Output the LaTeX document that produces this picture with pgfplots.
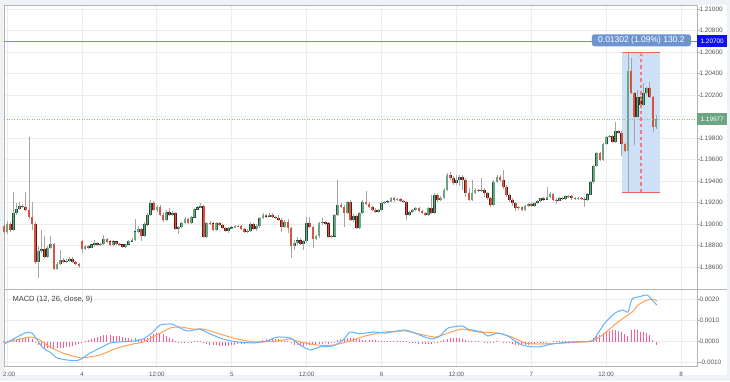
\documentclass[border=0pt]{standalone}
\usepackage{pgfplots}
\pgfplotsset{compat=1.18}
\usepackage{pgfplotstable}
\usepackage{fontspec}
\setmainfont{Liberation Sans}
\usetikzlibrary{arrows.meta}
\definecolor{bgc}{RGB}{238,241,245}
\definecolor{gridc}{RGB}{236,236,236}
\definecolor{framec}{RGB}{180,180,180}
\definecolor{labc}{RGB}{85,85,85}
\definecolor{upfill}{RGB}{107,165,131}
\definecolor{upline}{RGB}{34,84,55}
\definecolor{dnfill}{RGB}{215,84,66}
\definecolor{dnline}{RGB}{91,26,19}
\definecolor{wickc}{RGB}{165,165,165}
\definecolor{macdc}{RGB}{95,180,255}
\definecolor{sigc}{RGB}{255,160,90}
\definecolor{histc}{RGB}{255,90,150}
\definecolor{levelblue}{RGB}{125,125,255}
\definecolor{hlab}{RGB}{15,15,245}
\definecolor{lastc}{RGB}{107,165,131}
\definecolor{dotgreen}{RGB}{120,200,140}
\definecolor{boxc}{RGB}{205,224,247}
\definecolor{rangec}{RGB}{242,95,95}
\definecolor{arrc}{RGB}{245,120,130}
\definecolor{mlab}{RGB}{110,148,208}

\pgfplotstableread{
x o h l c
-25 1.18982 1.19010 1.18908 1.18926
-24 1.18926 1.19029 1.18908 1.19001
-23 1.19001 1.19019 1.18926 1.18945
-22 1.18945 1.19298 1.18936 1.19103
-21 1.19103 1.19196 1.19085 1.19140
-20 1.19140 1.19205 1.19131 1.19168
-19 1.19168 1.19187 1.19150 1.19159
-18 1.19159 1.19298 1.19122 1.19131
-17 1.19131 1.19810 1.19047 1.19066
-16 1.19066 1.19205 1.18945 1.19001
-15 1.19001 1.19019 1.18629 1.18647
-14 1.18647 1.18796 1.18499 1.18750
-13 1.18750 1.18945 1.18731 1.18768
-12 1.18768 1.18889 1.18685 1.18694
-11 1.18694 1.18796 1.18685 1.18778
-10 1.18778 1.18889 1.18768 1.18815
-9 1.18815 1.18824 1.18573 1.18582
-8 1.18582 1.18647 1.18573 1.18629
-7 1.18629 1.18759 1.18620 1.18666
-6 1.18666 1.18685 1.18638 1.18647
-5 1.18647 1.18675 1.18638 1.18657
-4 1.18657 1.18694 1.18647 1.18675
-3 1.18675 1.18694 1.18638 1.18647
-2 1.18647 1.18657 1.18620 1.18629
-1 1.18629 1.18638 1.18592 1.18610
0 1.18843 1.18852 1.18731 1.18768
1 1.18768 1.18806 1.18759 1.18796
2 1.18796 1.18806 1.18768 1.18782
3 1.18782 1.18815 1.18778 1.18806
4 1.18806 1.18852 1.18787 1.18824
5 1.18824 1.18833 1.18796 1.18806
6 1.18806 1.18824 1.18796 1.18815
7 1.18815 1.18899 1.18806 1.18861
8 1.18861 1.18871 1.18824 1.18836
9 1.18836 1.18852 1.18796 1.18806
10 1.18806 1.18852 1.18796 1.18836
11 1.18836 1.18843 1.18806 1.18815
12 1.18815 1.18824 1.18796 1.18806
13 1.18806 1.18815 1.18778 1.18787
14 1.18787 1.18815 1.18778 1.18810
15 1.18810 1.18852 1.18806 1.18838
16 1.18838 1.18871 1.18829 1.18852
17 1.18852 1.19047 1.18843 1.18929
18 1.18929 1.18982 1.18917 1.18951
19 1.18951 1.18964 1.18843 1.18889
20 1.18889 1.19019 1.18880 1.18998
21 1.18998 1.19103 1.18982 1.19085
22 1.19085 1.19224 1.19075 1.19193
23 1.19193 1.19215 1.19122 1.19131
24 1.19131 1.19178 1.19112 1.19159
25 1.19159 1.19178 1.19075 1.19085
26 1.19085 1.19103 1.19019 1.19038
27 1.19038 1.19131 1.19029 1.19112
28 1.19112 1.19150 1.19075 1.19085
29 1.19085 1.19122 1.19075 1.19103
30 1.19103 1.19112 1.18945 1.18954
31 1.18954 1.18982 1.18908 1.18973
32 1.18973 1.19019 1.18964 1.19010
33 1.19010 1.19066 1.19001 1.19045
34 1.19045 1.19057 1.19001 1.19010
35 1.19010 1.19075 1.19001 1.19063
36 1.19063 1.19150 1.19057 1.19138
37 1.19138 1.19168 1.19131 1.19154
38 1.19154 1.19196 1.19150 1.19164
39 1.19164 1.19178 1.18871 1.18880
40 1.18880 1.19019 1.18871 1.19010
41 1.19010 1.19029 1.18992 1.19005
42 1.19005 1.19019 1.18936 1.18945
43 1.18945 1.19019 1.18936 1.19010
44 1.19010 1.19019 1.18982 1.18992
45 1.18992 1.19001 1.18954 1.18964
46 1.18964 1.18973 1.18926 1.18936
47 1.18936 1.18973 1.18917 1.18959
48 1.18959 1.18982 1.18954 1.18968
49 1.18968 1.18992 1.18964 1.18982
50 1.18982 1.18992 1.18973 1.18978
51 1.18978 1.18992 1.18945 1.18954
52 1.18954 1.18964 1.18917 1.18926
53 1.18926 1.18954 1.18917 1.18936
54 1.18936 1.19019 1.18926 1.19001
55 1.19001 1.19010 1.18945 1.18954
56 1.18954 1.19001 1.18936 1.18982
57 1.18982 1.19066 1.18964 1.19057
58 1.19057 1.19103 1.19047 1.19080
59 1.19080 1.19094 1.19061 1.19071
60 1.19071 1.19103 1.19066 1.19080
61 1.19080 1.19103 1.19057 1.19066
62 1.19066 1.19075 1.19047 1.19057
63 1.19057 1.19085 1.19029 1.19038
64 1.19038 1.19057 1.18926 1.18973
65 1.18973 1.19038 1.18964 1.19019
66 1.19019 1.19047 1.18917 1.18964
67 1.18964 1.18973 1.18685 1.18796
68 1.18796 1.18852 1.18759 1.18824
69 1.18824 1.18880 1.18806 1.18847
70 1.18847 1.18871 1.18806 1.18815
71 1.18815 1.18852 1.18759 1.18843
72 1.18843 1.19066 1.18824 1.19010
73 1.19010 1.19066 1.18964 1.18973
74 1.18973 1.18982 1.18778 1.18861
75 1.18861 1.18899 1.18852 1.18889
76 1.18889 1.19019 1.18871 1.19010
77 1.19010 1.19057 1.18992 1.19019
78 1.19019 1.19029 1.18992 1.19005
79 1.19005 1.19019 1.18871 1.18880
80 1.18880 1.18899 1.18871 1.18885
81 1.18885 1.19094 1.18880 1.19085
82 1.19085 1.19410 1.19075 1.19178
83 1.19178 1.19196 1.19150 1.19159
84 1.19159 1.19178 1.18973 1.19103
85 1.19103 1.19215 1.19094 1.19205
86 1.19205 1.19224 1.19029 1.19038
87 1.19038 1.19094 1.19019 1.19075
88 1.19075 1.19085 1.18954 1.18964
89 1.18964 1.19112 1.18954 1.19103
90 1.19103 1.19224 1.19094 1.19205
91 1.19205 1.19308 1.19178 1.19187
92 1.19187 1.19205 1.19150 1.19159
93 1.19159 1.19168 1.19122 1.19131
94 1.19131 1.19150 1.19103 1.19112
95 1.19112 1.19140 1.19103 1.19131
96 1.19131 1.19205 1.19122 1.19196
97 1.19196 1.19215 1.19187 1.19205
98 1.19205 1.19224 1.19196 1.19210
99 1.19210 1.19252 1.19205 1.19243
100 1.19243 1.19252 1.19205 1.19224
101 1.19224 1.19243 1.19215 1.19233
102 1.19233 1.19243 1.19205 1.19215
103 1.19215 1.19224 1.19196 1.19205
104 1.19205 1.19215 1.19038 1.19085
105 1.19085 1.19122 1.19075 1.19112
106 1.19112 1.19140 1.19103 1.19131
107 1.19131 1.19159 1.19122 1.19150
108 1.19150 1.19159 1.19112 1.19122
109 1.19122 1.19131 1.19094 1.19103
110 1.19103 1.19112 1.19075 1.19085
111 1.19085 1.19159 1.19075 1.19150
112 1.19150 1.19271 1.19094 1.19103
113 1.19103 1.19289 1.19094 1.19271
114 1.19271 1.19289 1.19205 1.19224
115 1.19224 1.19261 1.19215 1.19243
116 1.19243 1.19336 1.19233 1.19317
117 1.19317 1.19475 1.19308 1.19457
118 1.19457 1.19484 1.19410 1.19429
119 1.19429 1.19447 1.19364 1.19382
120 1.19382 1.19457 1.19364 1.19410
121 1.19410 1.19457 1.19354 1.19438
122 1.19438 1.19457 1.19317 1.19410
123 1.19410 1.19429 1.19252 1.19289
124 1.19289 1.19336 1.19215 1.19224
125 1.19224 1.19410 1.19215 1.19289
126 1.19289 1.19336 1.19280 1.19317
127 1.19317 1.19326 1.19298 1.19308
128 1.19308 1.19429 1.19298 1.19317
129 1.19317 1.19336 1.19252 1.19289
130 1.19289 1.19298 1.19224 1.19243
131 1.19243 1.19252 1.19159 1.19178
132 1.19178 1.19410 1.19168 1.19391
133 1.19391 1.19457 1.19382 1.19438
134 1.19438 1.19457 1.19391 1.19410
135 1.19410 1.19503 1.19326 1.19345
136 1.19345 1.19364 1.19252 1.19271
137 1.19271 1.19289 1.19205 1.19224
138 1.19224 1.19243 1.19168 1.19196
139 1.19196 1.19205 1.19122 1.19150
140 1.19150 1.19168 1.19131 1.19159
141 1.19159 1.19168 1.19122 1.19131
142 1.19131 1.19178 1.19122 1.19168
143 1.19168 1.19196 1.19159 1.19187
144 1.19187 1.19205 1.19159 1.19168
145 1.19168 1.19205 1.19159 1.19196
146 1.19196 1.19224 1.19187 1.19215
147 1.19215 1.19243 1.19205 1.19238
148 1.19238 1.19252 1.19215 1.19229
149 1.19229 1.19345 1.19224 1.19252
150 1.19252 1.19298 1.19243 1.19280
151 1.19280 1.19289 1.19215 1.19224
152 1.19224 1.19243 1.19187 1.19219
153 1.19219 1.19252 1.19215 1.19243
154 1.19243 1.19252 1.19224 1.19233
155 1.19233 1.19271 1.19224 1.19257
156 1.19257 1.19271 1.19243 1.19261
157 1.19261 1.19271 1.19224 1.19243
158 1.19243 1.19252 1.19224 1.19238
159 1.19238 1.19252 1.19224 1.19238
160 1.19238 1.19252 1.19224 1.19233
161 1.19233 1.19252 1.19159 1.19224
162 1.19224 1.19289 1.19215 1.19275
163 1.19275 1.19401 1.19271 1.19391
164 1.19391 1.19550 1.19382 1.19540
165 1.19540 1.19670 1.19531 1.19661
166 1.19661 1.19670 1.19587 1.19596
167 1.19596 1.19754 1.19587 1.19745
168 1.19745 1.19819 1.19736 1.19810
169 1.19810 1.19829 1.19801 1.19819
170 1.19819 1.19829 1.19754 1.19763
171 1.19763 1.19949 1.19754 1.19866
172 1.19866 1.19875 1.19838 1.19847
173 1.19847 1.19866 1.19633 1.19745
174 1.19745 1.19754 1.19670 1.19680
175 1.19680 1.20600 1.19298 1.20424
176 1.20424 1.20545 1.20210 1.20219
177 1.20219 1.20228 1.19736 1.19996
178 1.19996 1.20247 1.19987 1.20182
179 1.20182 1.20191 1.20098 1.20108
180 1.20108 1.20312 1.20098 1.20219
181 1.20219 1.20275 1.20201 1.20266
182 1.20266 1.20321 1.20173 1.20182
183 1.20182 1.20191 1.19856 1.19903
184 1.19903 1.20015 1.19884 1.19977
}\candles

\pgfplotstableread{
x v
-25 -0.00011
-18.3 0.00041
-16 0.00041
-12.5 -0.0003
-10.3 -0.00049
-8 -0.00077
-4.8 -0.00087
-1.6 -0.0009
0.3 -0.00077
2.6 -0.00054
5.8 -0.0003
9 -0.00006
12.2 -0.00001
16.3 0.00003
19.6 0.00013
22.4 0.00041
25 0.00079
28.8 0.00084
31.4 0.00065
34 0.00051
37.8 0.0006
40.4 0.00041
45.2 0.00013
49.7 -0.00001
54.8 -0.00006
59.3 0.00003
62.5 0.00022
66.7 0.00018
69.9 -0.00016
73.1 -0.00039
76.3 -0.00025
80.4 -0.0002
83.7 0.00008
85.9 0.00046
89.1 0.00037
90.7 0.00041
93.9 0.00046
97.1 0.00041
101.3 0.00051
103.5 0.00056
106.7 0.00041
109.9 0.00022
112.2 0.00013
114.7 0.00027
117.3 0.00065
121.8 0.00075
123.7 0.0006
128.2 0.00046
130.1 0.00027
133.3 0.00041
136.5 0.00027
139.7 -0.00006
142 -0.0002
146.2 -0.00025
150.6 -0.00011
157.1 -0.00001
163.5 0.00003
165.4 0.00041
167.6 0.00089
170.8 0.00136
173.4 0.00151
175 0.00141
176.3 0.00203
178.2 0.00212
181.1 0.00222
182.7 0.00198
184.3 0.00174
}\macdline

\pgfplotstableread{
x v
-25 -0.00006
-16.7 0.00022
-13.5 0.00008
-10.3 -0.00025
-6.1 -0.00054
-1.6 -0.00073
0.3 -0.00077
5.8 -0.00063
11.2 -0.0003
16.3 -0.00011
19.6 -0.00001
24 0.00032
28.2 0.00065
31.4 0.0007
35.6 0.0006
38.8 0.0006
43.3 0.00041
48.4 0.00018
54.8 -0.00001
62.5 0.00003
66.7 0.00013
69.9 -0.00001
75.3 -0.00016
80.4 -0.00016
84.9 -0.00001
90.7 0.00027
97.1 0.00046
103.5 0.00051
106.7 0.00041
113.1 0.00022
117.3 0.00041
121.8 0.0006
126.9 0.00046
133.3 0.00041
137.8 0.00022
142 -0.00006
146.2 -0.00011
154.8 -0.00006
163.5 0.00003
167.6 0.00041
171.8 0.00094
176.3 0.00141
178.2 0.00174
180.4 0.00193
182.7 0.00203
184.3 0.00193
}\signalline

\pgfplotstableread{
x v
-25 0.00003
-24 0.00005
-23 0.00008
-22 0.00012
-21 0.00015
-20 0.00018
-19 0.0002
-18 0.00022
-17 0.0002
-16 0.00012
-15 -0.00005
-14 -0.00015
-13 -0.00022
-12 -0.00028
-11 -0.0003
-10 -0.00032
-9 -0.00033
-8 -0.00032
-7 -0.0003
-6 -0.00028
-5 -0.00026
-4 -0.00023
-3 -0.0002
-2 -0.00017
-1 -0.00013
0 -0.00005
1 0.00003
2 0.0001
3 0.00015
4 0.0002
5 0.00024
6 0.00027
7 0.0003
8 0.00031
9 0.0003
10 0.00029
11 0.00027
12 0.00025
13 0.00022
14 0.0002
15 0.00017
16 0.00015
17 0.00016
18 0.00015
19 0.00013
20 0.00012
21 0.00018
22 0.00028
23 0.00036
24 0.0004
25 0.0004
26 0.00035
27 0.00028
28 0.0002
29 0.00012
30 0.00003
31 -0.00003
32 -0.00005
33 -0.00006
34 -0.00005
35 -0.00003
36 0.00001
37 0.00002
38 0.00001
39 -0.00008
40 -0.00012
41 -0.00015
42 -0.00017
43 -0.00018
44 -0.00019
45 -0.0002
46 -0.0002
47 -0.00019
48 -0.00017
49 -0.00015
50 -0.00013
51 -0.00011
52 -0.0001
53 -0.00008
54 -0.00005
55 -0.00002
56 0
57 0.00004
58 0.00008
59 0.00011
60 0.00013
61 0.00014
62 0.00014
63 0.00012
64 0.00008
65 0.00005
66 0.00002
67 -0.00008
68 -0.00014
69 -0.00018
70 -0.0002
71 -0.00021
72 -0.00017
73 -0.00016
74 -0.00017
75 -0.00015
76 -0.00012
77 -0.0001
78 -0.00008
79 -0.00009
80 -0.00008
81 -0.00002
82 0.00008
83 0.00014
84 0.00017
85 0.00019
86 0.00018
87 0.00016
88 0.00012
89 0.00011
90 0.0001
91 0.0001
92 0.00009
93 0.00008
94 0.00006
95 0.00004
96 0.00003
97 0.00003
98 0.00002
99 0.00003
100 0.00003
101 0.00003
102 0.00004
103 0.00004
104 0.00001
105 -0.00003
106 -0.00006
107 -0.00008
108 -0.0001
109 -0.00011
110 -0.00012
111 -0.00011
112 -0.0001
113 -0.00004
114 -0.00001
115 0.00002
116 0.00006
117 0.00013
118 0.00018
119 0.0002
120 0.00019
121 0.00016
122 0.00013
123 0.00008
124 0.00004
125 0.00003
126 0.00002
127 0.00001
128 0
129 -0.00002
130 -0.00005
131 -0.00008
132 -0.00002
133 0.00001
134 0
135 -0.00002
136 -0.00005
137 -0.00008
138 -0.00011
139 -0.00014
140 -0.00016
141 -0.00017
142 -0.00016
143 -0.00014
144 -0.00012
145 -0.0001
146 -0.00008
147 -0.00006
148 -0.00004
149 -0.00002
150 0
151 0.00001
152 0.00002
153 0.00003
154 0.00003
155 0.00003
156 0.00002
157 0.00002
158 0.00001
159 0.00001
160 0.00001
161 0
162 0.00002
163 0.00008
164 0.00017
165 0.00027
166 0.00034
167 0.00042
168 0.00047
169 0.00052
170 0.00055
171 0.00056
172 0.00051
173 0.00045
174 0.00035
175 0.00027
176 0.00055
177 0.00062
178 0.00055
179 0.00048
180 0.00045
181 0.0004
182 0.00032
183 0.00006
184 -0.00015
}\histdata

\begin{document}
\begin{tikzpicture}
\useasboundingbox (0,0) rectangle (730pt,381pt);
\fill[bgc] (0,0) rectangle (730pt,381pt);
\fill[white] (4pt,6pt) rectangle (727pt,376pt);
\draw[framec, line width=0.8pt] (4pt,92pt) -- (727pt,92pt);

% ---------------- main price pane ----------------
\begin{axis}[
  at={(4pt,92pt)}, anchor=south west,
  width=693pt, height=284pt, scale only axis,
  xmin=-25, xmax=197.12, ymin=1.18396, ymax=1.21038,
  clip=false,
  axis line style={framec, line width=0.8pt},
  xtick={-24,0,24,48,72,96,120,144,168,192},
  xticklabels={,,,,,,,,,},
  xtick style={draw=none},
  ytick={1.186,1.188,1.19,1.192,1.194,1.196,1.198,1.2,1.202,1.204,1.206,1.208,1.21},
  yticklabels={1.18600,1.18800,1.19000,1.19200,1.19400,1.19600,1.19800,,1.20200,1.20400,1.20600,1.20800,1.21000},
  scaled y ticks=false,
  ytick pos=right, tick align=outside, major tick length=3pt,
  ytick style={framec, line width=0.6pt},
  yticklabel style={font=\fontsize{6.4}{7}\selectfont, text=labc, anchor=west, xshift=-4pt},
  grid=major, major grid style={gridc, line width=0.8pt},
]
% measurement box
\addplot[fill=boxc, draw=none, forget plot] coordinates {(173.1,1.19298) (173.1,1.206) (185.3,1.206) (185.3,1.19298)} -- cycle;

% wicks
\addplot[draw=none, mark=none, forget plot,
  error bars/.cd, y dir=minus, y explicit, error mark=none,
  error bar style={draw=wickc, line width=0.7pt}]
  table[x=x, y=h, y error minus expr={\thisrow{h}-\thisrow{l}}] {\candles};
% up candles: border then fill
\addplot[draw=none, mark=none, forget plot,
  restrict expr to domain={\thisrow{c}-\thisrow{o}}{0:1},
  error bars/.cd, y dir=minus, y explicit, error mark=none,
  error bar style={draw=upline, line width=2.7pt}]
  table[x=x, y expr={\thisrow{c}+0.00004}, y error minus expr={\thisrow{c}-\thisrow{o}+0.00008}] {\candles};
\addplot[draw=none, mark=none, forget plot,
  restrict expr to domain={\thisrow{c}-\thisrow{o}}{0:1},
  error bars/.cd, y dir=minus, y explicit, error mark=none,
  error bar style={draw=upfill, line width=1.7pt}]
  table[x=x, y=c, y error minus expr={max(\thisrow{c}-\thisrow{o},0.00001)}] {\candles};
% down candles
\addplot[draw=none, mark=none, forget plot,
  restrict expr to domain={\thisrow{c}-\thisrow{o}}{-1:-0.0000001},
  error bars/.cd, y dir=minus, y explicit, error mark=none,
  error bar style={draw=dnline, line width=2.7pt}]
  table[x=x, y expr={\thisrow{o}+0.00004}, y error minus expr={\thisrow{o}-\thisrow{c}+0.00008}] {\candles};
\addplot[draw=none, mark=none, forget plot,
  restrict expr to domain={\thisrow{c}-\thisrow{o}}{-1:-0.0000001},
  error bars/.cd, y dir=minus, y explicit, error mark=none,
  error bar style={draw=dnfill, line width=1.7pt}]
  table[x=x, y=o, y error minus expr={\thisrow{o}-\thisrow{c}}] {\candles};

% horizontal lines
\addplot[draw=levelblue, mark=none, line width=1pt, forget plot] coordinates {(-25,1.207) (197.12,1.207)};
\addplot[draw=dotgreen, mark=none, dash pattern=on 1pt off 1.5pt, line width=0.8pt, forget plot] coordinates {(-25,1.19977) (197.12,1.19977)};
% measurement range lines
\addplot[draw=rangec, mark=none, line width=1pt, forget plot] coordinates {(173.1,1.206) (185.3,1.206)};
\addplot[draw=rangec, mark=none, line width=1pt, forget plot] coordinates {(173.1,1.19298) (185.3,1.19298)};
\addplot[draw=arrc, mark=none, line width=1.3pt, dash pattern=on 3.5pt off 3pt, -{Stealth[length=3.5pt,width=4pt]}, forget plot] coordinates {(179.2,1.19298) (179.2,1.2059)};

\node[fill=mlab, text=white, rounded corners=2.5pt, font=\fontsize{8.5}{9}\selectfont,
  inner xsep=3pt, inner ysep=0pt, minimum height=12pt, minimum width=99pt] at (axis cs:179.3,1.2071) {0.01302 (1.09\%) 130.2};
\node[fill=hlab, text=white, anchor=west, font=\fontsize{6.4}{7}\selectfont,
  inner sep=0pt, minimum width=30pt, minimum height=12pt] at (axis cs:197.12,1.207) {1.20700};
\node[fill=lastc, text=white, anchor=west, font=\fontsize{6.4}{7}\selectfont,
  inner sep=0pt, minimum width=30pt, minimum height=12pt] at (axis cs:197.12,1.19977) {1.19977};
\end{axis}

% ---------------- MACD pane ----------------
\begin{axis}[
  at={(4pt,15pt)}, anchor=south west,
  width=693pt, height=76.5pt, scale only axis,
  xmin=-25, xmax=197.12, ymin=-0.001154, ymax=0.00248,
  clip=false,
  axis line style={framec, line width=0.8pt},
  xtick={-24,0,24,48,72,96,120,144,168,192},
  xticklabels={{\makebox[0pt][l]{\hspace*{-4pt}2:00}},4,12:00,5,12:00,6,12:00,7,12:00,8},
  xtick style={draw=none},
  xticklabel style={font=\fontsize{6.2}{7}\selectfont, text=labc},
  ytick={-0.001,0,0.001,0.002},
  yticklabels={-0.0010,0.0000,0.0010,0.0020},
  scaled y ticks=false,
  ytick pos=right, tick align=outside, major tick length=3pt,
  ytick style={framec, line width=0.6pt},
  yticklabel style={font=\fontsize{6.4}{7}\selectfont, text=labc, anchor=west, xshift=-4pt},
  grid=major, major grid style={gridc, line width=0.8pt},
]
\addplot[ycomb, histc, line width=1pt, forget plot] table[x=x, y=v] {\histdata};
\addplot[sigc, line width=1pt, smooth, tension=0.35, forget plot] table[x=x, y=v] {\signalline};
\addplot[macdc, line width=1pt, smooth, tension=0.35, forget plot] table[x=x, y=v] {\macdline};
\node[anchor=west, font=\fontsize{7.5}{8}\selectfont, text={rgb,255:red,70;green,70;blue,70}] at (axis cs:-23.4,0.00198) {MACD (12, 26, close, 9)};
\end{axis}
\end{tikzpicture}
\end{document}
